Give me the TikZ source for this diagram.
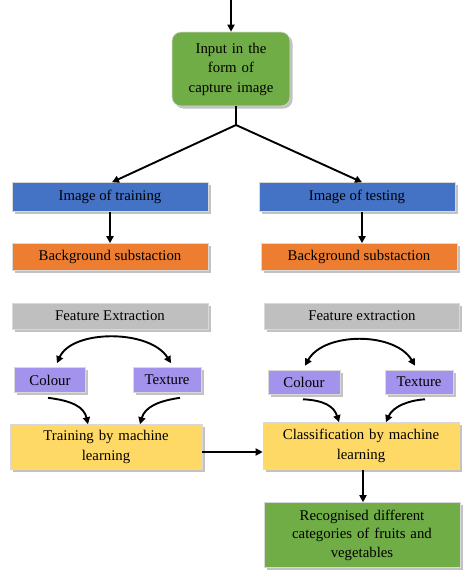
\documentclass[tikz,border=0pt]{standalone}
\usepackage{fontspec}
\setmainfont{Liberation Serif}
\usetikzlibrary{arrows.meta,shadows,calc}
\definecolor{cgreen}{HTML}{70AD47}
\definecolor{cblue}{HTML}{4472C4}
\definecolor{corange}{HTML}{ED7D31}
\definecolor{cgray}{HTML}{BFBFBF}
\definecolor{cpurple}{HTML}{A393EC}
\definecolor{cyellow}{HTML}{FFD966}
\tikzset{
  box/.style={draw=white!85!black, line width=0.6pt, inner sep=1pt, align=center,
    font=\fontsize{14.8}{19.5}\selectfont,
    drop shadow={shadow xshift=2.5pt, shadow yshift=-2.5pt, fill=black!40, opacity=.6}},
  arr/.style={line width=1.9pt, -{Triangle[length=7pt,width=7pt]}},
  darr/.style={line width=1.9pt, {Triangle[length=7pt,width=7pt]}-{Triangle[length=7pt,width=7pt]}},
}
\begin{document}
\begin{tikzpicture}[x=1pt,y=-1pt]
\useasboundingbox (0,0) rectangle (474,579);
% top
\coordinate (top) at (231,0);
\node[box, fill=cgreen, rounded corners=9pt, minimum width=118pt, minimum height=74pt, text width=112pt] (g1) at (231,69) {Input in the\\form of\\capture image};
\coordinate (J) at (236,125);
% row blue
\node[box, fill=cblue, minimum width=196pt, minimum height=29pt] (b1) at (110,197) {Image of training};
\node[box, fill=cblue, minimum width=196pt, minimum height=29pt] (b2) at (357,197) {Image of testing};
% orange
\node[box, fill=corange, minimum width=196pt, minimum height=27pt] (o1) at (110,257) {Background substaction};
\node[box, fill=corange, minimum width=196pt, minimum height=27pt] (o2) at (359,257) {Background substaction};
% gray
\node[box, fill=cgray, minimum width=196pt, minimum height=26pt] (f1) at (110,316) {Feature Extraction};
\node[box, fill=cgray, minimum width=195pt, minimum height=26pt] (f2) at (362,316) {Feature extraction};
% purple
\node[box, fill=cpurple, minimum width=71pt, minimum height=25pt] (c1) at (50,380) {Colour};
\node[box, fill=cpurple, minimum width=68pt, minimum height=25pt] (t1) at (167,380) {Texture};
\node[box, fill=cpurple, minimum width=72pt, minimum height=24pt] (c2) at (304,382) {Colour};
\node[box, fill=cpurple, minimum width=68pt, minimum height=24pt] (t2) at (419,382) {Texture};
% yellow
\node[box, fill=cyellow, minimum width=192pt, minimum height=45pt, text width=186pt] (y1) at (106,447) {Training by machine\\learning};
\node[box, fill=cyellow, minimum width=196pt, minimum height=47pt, text width=190pt] (y2) at (361,446) {Classification by machine\\learning};
% bottom green
\node[box, fill=cgreen, minimum width=196pt, minimum height=65pt, text width=190pt, font=\fontsize{14.8}{18.5}\selectfont] (g2) at (362,535) {Recognised different\\categories of fruits and\\vegetables};

% connectors
\draw[arr] (top) -- (g1.north);
\draw[line width=1.9pt] (g1.south -| J) -- (J);
\draw[arr] (J) -- ([xshift=2pt]b1.north);
\draw[arr] (J) -- ([xshift=5pt]b2.north);
\draw[arr] (b1.south) -- (o1.north);
\draw[arr] ([xshift=5pt]b2.south) -- ([xshift=5pt]b2.south |- o2.north);
\draw[darr] ([xshift=7pt,yshift=4pt]c1.north) .. controls ($(c1.north)+(22,-38)$) and ($(t1.north)+(-17,-38)$) .. ([xshift=4pt,yshift=4pt]t1.north);
\draw[darr] ([xshift=1pt,yshift=4pt]c2.north) .. controls ($(c2.north)+(20,-38)$) and ($(t2.north)+(-24,-38)$) .. ([xshift=-4pt,yshift=4pt]t2.north);
\draw[arr] ([xshift=-2pt,yshift=-5pt]c1.south) .. controls ($(c1.south)+(22,8)$) and ($(c1.south)+(34,14)$) .. ([xshift=-18pt]y1.north);
\draw[arr] ([xshift=13pt,yshift=-5pt]t1.south) .. controls ($(t1.south)+(-8,8)$) and ($(t1.south)+(-22,14)$) .. ([xshift=34pt]y1.north);
\draw[arr] ([xshift=-1pt,yshift=-5pt]c2.south) .. controls ($(c2.south)+(20,6)$) and ($(c2.south)+(30,12)$) .. ([xshift=-22pt]y2.north);
\draw[arr] ([xshift=6pt,yshift=-5pt]t2.south) .. controls ($(t2.south)+(-10,6)$) and ($(t2.south)+(-26,12)$) .. ([xshift=25pt]y2.north);
\draw[arr] ([yshift=-5pt]y1.east) -- ([yshift=-5pt]y1.east -| y2.west);
\draw[arr] ([xshift=2pt]y2.south) -- ([xshift=2pt]y2.south |- g2.north);
\end{tikzpicture}
\end{document}
